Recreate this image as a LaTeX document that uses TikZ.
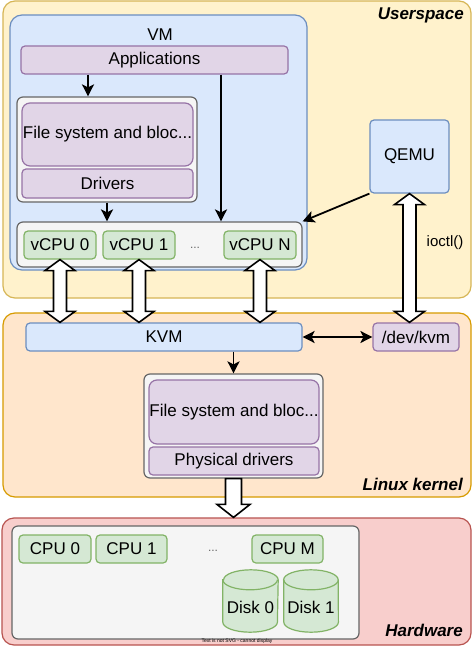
\documentclass[tikz,border=0pt]{standalone}
\usepackage{fontspec}
\setmainfont{Liberation Sans}
\usetikzlibrary{arrows.meta,calc}
\definecolor{usF}{HTML}{FFF2CC}\definecolor{usS}{HTML}{D6B656}
\definecolor{blF}{HTML}{DAE8FC}\definecolor{blS}{HTML}{6C8EBF}
\definecolor{puF}{HTML}{E1D5E7}\definecolor{puS}{HTML}{9673A6}
\definecolor{grF}{HTML}{D5E8D4}\definecolor{grS}{HTML}{82B366}
\definecolor{gyF}{HTML}{F5F5F5}\definecolor{gyS}{HTML}{666666}
\definecolor{orF}{HTML}{FFE6CC}\definecolor{orS}{HTML}{D79B00}
\definecolor{rdF}{HTML}{F8CECC}\definecolor{rdS}{HTML}{B85450}
\newcommand\BX[5]{\node[#1, minimum width={#4-#2}, minimum height={#5-#3}] at ({(#2+#4)/2},{(#3+#5)/2})}
\tikzset{
  base/.style={draw, line width=1.2pt, inner sep=0pt, font=\fontsize{17}{20}\selectfont, text=black},
  layer/.style={base, rounded corners=12pt},
  usbox/.style={layer, fill=usF, draw=usS},
  orbox/.style={layer, fill=orF, draw=orS},
  rdbox/.style={layer, fill=rdF, draw=rdS},
  vmbox/.style={base, rounded corners=12pt, fill=blF, draw=blS},
  blbox/.style={base, rounded corners=4pt, fill=blF, draw=blS},
  pubox/.style={base, rounded corners=4pt, fill=puF, draw=puS},
  pubig/.style={base, rounded corners=8pt, fill=puF, draw=puS},
  grbox/.style={base, rounded corners=4pt, fill=grF, draw=grS},
  gybox/.style={base, rounded corners=6pt, fill=gyF, draw=gyS},
  disknode/.style={inner sep=0pt, font=\fontsize{17}{20}\selectfont},
  disk/.style={line width=1.2pt, fill=grF, draw=grS},
  lbl/.style={font=\fontsize{17}{20}\selectfont\bfseries\itshape, inner sep=0pt},
  conn/.style={line width=1.8pt, arrows={-Stealth[length=12pt,width=12pt,inset=3pt]}},
  conn2/.style={line width=1.8pt, arrows={Stealth[length=12pt,width=12pt,inset=3pt]-Stealth[length=12pt,width=12pt,inset=3pt]}},
  fat/.style={line width=1.6pt, draw=black, fill=white, line join=miter},
  dots/.style={font=\fontsize{12}{14}\selectfont, text=gyS, inner sep=0pt}
}
% vertical double arrow from top point #1 to bottom point #2 (canvas coords)
\newcommand\DArrow[2]{\path[fat] let \p1=#1, \p2=#2 in
  (\x1,\y1) -- (\x1+15pt,\y1-11pt) -- (\x1+6.5pt,\y1-11pt) -- (\x1+6.5pt,\y2+11pt) -- (\x1+15pt,\y2+11pt)
  -- (\x1,\y2) -- (\x1-15pt,\y2+11pt) -- (\x1-6.5pt,\y2+11pt) -- (\x1-6.5pt,\y1-11pt) -- (\x1-15pt,\y1-11pt) -- cycle;}
\newcommand\SArrow[2]{\path[fat] let \p1=#1, \p2=#2 in
  (\x1-8pt,\y1) -- (\x1+8pt,\y1) -- (\x1+8pt,\y2+13pt) -- (\x1+16.5pt,\y2+13pt)
  -- (\x1,\y2) -- (\x1-16.5pt,\y2+13pt) -- (\x1-8pt,\y2+13pt) -- cycle;}
\begin{document}
\begin{tikzpicture}[x=1pt,y=-1pt]
\useasboundingbox (0,0) rectangle (474,647);
\fill[white] (0,0) rectangle (474,647);
% layers
\BX{usbox}{3}{1}{471}{298} (us) {};
\BX{orbox}{3}{313}{471}{497} (lk) {};
\BX{rdbox}{2}{518}{471}{645} (hw) {};
\node[lbl, anchor=east] (uslbl) at (464,15) {Userspace};
\node[lbl, anchor=east] (lklbl) at (463,484) {Linux kernel};
\node[lbl, anchor=east] (hwlbl) at (463,630) {Hardware};
% VM
\BX{vmbox}{10}{15}{307}{270} (vm) {};
\node[font=\fontsize{17}{20}\selectfont, inner sep=0pt] (vmlbl) at (160,35) {VM};
\BX{pubox}{21}{46}{288}{74} (apps) {Applications};
\BX{gybox}{17}{97}{197}{202} (fsgrp) {};
\BX{pubig}{22}{103}{193}{166} (fs1) {File system and bloc...};
\BX{pubox}{22}{169}{193}{198} (drv) {Drivers};
\BX{gybox}{17}{222}{302}{267} (vcont) {};
\BX{grbox}{24}{231}{96}{259} (v0) {vCPU 0};
\BX{grbox}{103}{231}{175}{259} (v1) {vCPU 1};
\node[dots] (vdots) at (195,248) {...};
\BX{grbox}{224}{231}{296}{259} (vN) {vCPU N};
% QEMU
\BX{blbox}{370}{120}{449}{193} (qemu) {QEMU};
\node[font=\fontsize{15}{18}\selectfont, inner sep=0pt] (ioctl) at (445,243) {ioctl()};
% kernel
\BX{blbox}{26}{323}{302}{351} (kvm) {KVM};
\BX{pubox}{373}{323}{459}{351} (devkvm) {/dev/kvm};
\BX{gybox}{144}{374}{323}{478} (kgrp) {};
\BX{pubig}{149}{380}{319}{444} (kfs) {File system and bloc...};
\BX{pubox}{149}{447}{319}{475} (pdrv) {Physical drivers};
% hardware
\BX{gybox}{12}{526}{359}{639} (hwcont) {};
\BX{grbox}{19}{535}{91}{563} (cpu0) {CPU 0};
\BX{grbox}{96}{535}{167}{563} (cpu1) {CPU 1};
\node[dots] (hdots) at (213,551) {...};
\BX{grbox}{252}{535}{323}{563} (cpuM) {CPU M};
% disks
\BX{disknode}{223}{570}{278}{632} (d0) {};
\BX{disknode}{284}{570}{338}{632} (d1) {};
\foreach \d in {d0,d1}{
  \path[disk] (\d.north west) ++(0,10) -- ($(\d.south west)+(0,-10)$)
    arc[start angle=180,end angle=360,x radius=27.3pt,y radius=10pt]
    -- ($(\d.north east)+(0,10)$)
    arc[start angle=0,end angle=180,x radius=27.3pt,y radius=10pt] -- cycle;
  \draw[disk, fill=none] (\d.north west) ++(0,10) arc[start angle=180,end angle=360,x radius=27.3pt,y radius=10pt];
}
\node[disknode] (d0t) at (250.5,607) {Disk 0};
\node[disknode] (d1t) at (311,607) {Disk 1};
\node[font=\fontsize{5}{6}\selectfont, inner sep=0pt] (nosvg) at (237,641) {Text is not SVG - cannot display};
% connectors
\path (fsgrp.north) ++(-19,0) coordinate (fsin);
\draw[conn] (apps.south -| fsin) -- (fsin);
\draw[conn] (fsgrp.south) -- (fsgrp.south |- vcont.north);
\path (apps.south) ++(66.5,0) coordinate (appout);
\draw[conn] (appout) -- (appout |- vcont.north);
\draw[conn] (qemu.south west) -- (vcont.north east);
\draw[conn2] (kvm.east) -- (devkvm.west);
\draw[conn] (kgrp.north |- kvm.south) -- (kgrp.north);
\DArrow{(v0.south)}{(v0.south |- kvm.north)}
\DArrow{(v1.south)}{(v1.south |- kvm.north)}
\DArrow{(vN.south)}{(vN.south |- kvm.north)}
\DArrow{(qemu.south)}{(qemu.south |- devkvm.north)}
\SArrow{(kgrp.south)}{(kgrp.south |- hw.north)}
\end{tikzpicture}
\end{document}
